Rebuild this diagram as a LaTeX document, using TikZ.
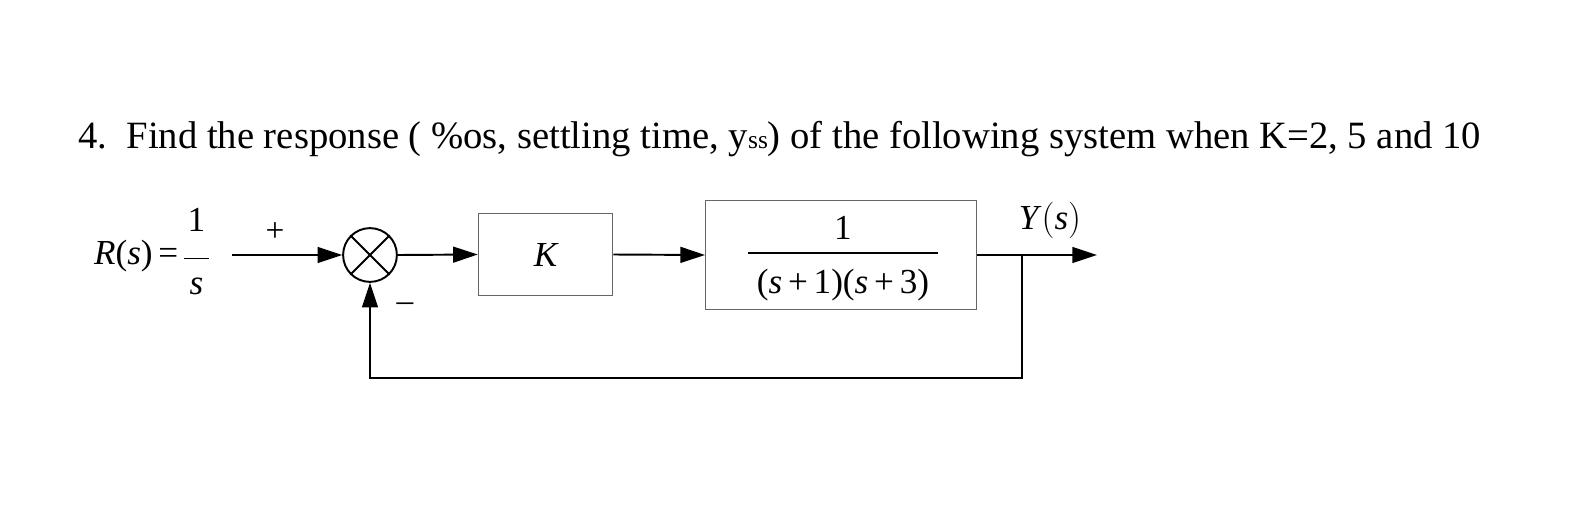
\documentclass[tikz,border=0pt]{standalone}
\usepackage{fontspec}
\setmainfont{Liberation Serif}
\usetikzlibrary{arrows.meta}
\begin{document}
\begin{tikzpicture}[x=0.02cm,y=-0.02cm,
  sig/.style={line width=1.1pt,-{Triangle[length=14pt,width=9pt]}},
  ln/.style={line width=1.1pt}]
\useasboundingbox (0,0) rectangle (1572,504);
\node[anchor=base west,font=\fontsize{22}{26}\selectfont] (title) at (72,148) {4.\ \ Find the response ( \%os, settling time, y{\fontsize{14.5}{16}\selectfont ss}) of the following system when K=2, 5 and 10};
\node[anchor=east,font=\fontsize{20}{22}\selectfont] (R) at (215,255) {\textit{R}(\textit{s})\,=\,$\vcenter{\hbox{\fontsize{20}{22}\selectfont\begin{tabular}{@{}c@{}}1\\[-6pt]\rule{14pt}{0.5pt}\\[-2pt]\textit{s}\end{tabular}}}$};
\coordinate (in) at (232,255);
\node[font=\fontsize{19}{22}\selectfont] (plus) at (275,232) {+};
\node[draw,circle,line width=1.1pt,minimum size=54pt*0.5669] (sum) at (370,255) {};
\draw[ln] (sum.north west)--(sum.south east) (sum.north east)--(sum.south west);
\node[draw=black!60,line width=0.6pt,minimum width=135*0.5669pt,minimum height=83*0.5669pt,font=\fontsize{20}{22}\selectfont\itshape] (K) at (545.5,254.5) {K};
\node[draw=black!60,line width=0.6pt,minimum width=272*0.5669pt,minimum height=110*0.5669pt] (G) at (841,255) {};
\node[font=\fontsize{20}{22}\selectfont] (num) at (843,228) {1};
\draw[line width=0.8pt] (748,253)--(938,253);
\node[font=\fontsize{20}{22}\selectfont] (den) at (843,285) {(\textit{s}\,+\,1)(\textit{s}\,+\,3)};
\coordinate (tap) at (1022,255);
\coordinate (out) at (1097,255);
\node[font=\fontsize{20}{22}\selectfont] (Y) at (1050,220) {\textit{Y}$\Bigl($\textit{s}$\Bigr)$};
\node[font=\fontsize{19}{22}\selectfont] (minus) at (405,307) {--};
\draw[sig] (in)--(sum.west);
\draw[sig] (sum.east)--(K.west);
\draw[sig] (K.east)--(G.west);
\draw[sig] (G.east)--(out);
\draw[sig] (tap)--(1022,378)--(370,378)--(sum.south);
\end{tikzpicture}
\end{document}
